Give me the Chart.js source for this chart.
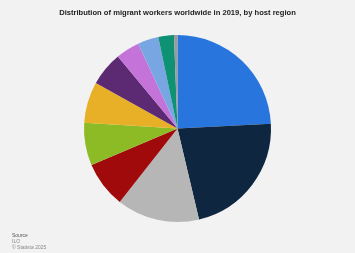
<!DOCTYPE html>
<html>
<head>
<meta charset="utf-8">
<script src="https://cdn.jsdelivr.net/npm/chart.js@4/dist/chart.umd.min.js"></script>
<style>
  html, body { margin: 0; padding: 0; background: #f2f2f2; }
  #wrap { position: relative; width: 355px; height: 253px; }
</style>
</head>
<body>
<div id="wrap"><canvas id="regionChart" width="355" height="253"></canvas></div>
<script>
// Host regions (share of migrant workers, %)
const regions = [
    "Northern, Southern and Western Europe",
    "Northern America",
    "Arab States",
    "Eastern Europe",
    "Sub-Saharan Africa",
    "South-Eastern Asia and the Pacific",
    "Central and Western Asia",
    "Eastern Asia",
    "Latin America and the Caribbean",
    "Southern Asia",
    "Northern Africa"
];
const shares = [24.2, 22.1, 14.3, 8.0, 7.4, 7.1, 5.9, 4.1, 3.6, 2.7, 0.6];
const colors = ["#2876dd", "#0f2640", "#b6b6b6", "#a10a0a", "#8cbb26", "#e8b026",
                "#5c2a72", "#c474d9", "#78a6e2", "#0e9273", "#9a9a9a"];

const titleText = "Distribution of migrant workers worldwide in 2019, by host region";
const sourceLines = ["Source", "ILO", "\u00a9 Statista 2025"];

// ---- Titre et source dessinés à la main ----
const textPlugin = {
    id: "textPlugin",
    afterDraw(chart) {
        const ctx = chart.ctx;
        ctx.save();
        ctx.fillStyle = "#222";
        ctx.font = "bold 7.6px 'Liberation Sans', Arial, sans-serif";
        ctx.textAlign = "center";
        ctx.textBaseline = "middle";
        ctx.fillText(titleText, 177.5, 13);

        ctx.textAlign = "left";
        ctx.font = "5px 'Liberation Sans', Arial, sans-serif";
        ctx.fillStyle = "#555";
        ctx.fillText(sourceLines[0], 12, 236);
        ctx.fillStyle = "#888";
        ctx.fillText(sourceLines[1], 12, 242);
        ctx.fillText(sourceLines[2], 12, 248);
        ctx.restore();
    }
};

new Chart(document.getElementById("regionChart"), {
    type: "pie",
    data: {
        labels: regions,
        datasets: [{
            data: shares,
            backgroundColor: colors,
            borderWidth: 0
        }]
    },
    options: {
        responsive: false,
        animation: false,
        layout: { padding: { top: 35, bottom: 31, left: 0, right: 0 } },
        plugins: {
            legend: { display: false },
            title: { display: false },
            tooltip: { enabled: false }
        }
    },
    plugins: [textPlugin]
});
</script>
</body>
</html>
